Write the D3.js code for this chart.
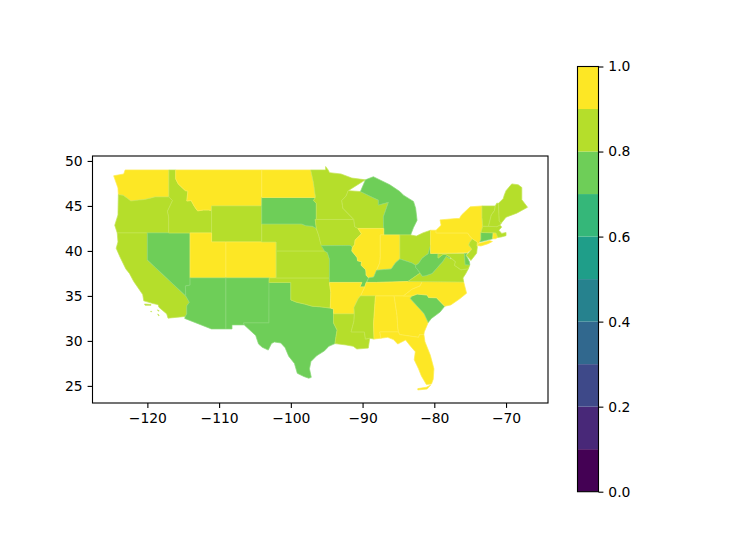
<!DOCTYPE html>
<html>
<head>
<meta charset="utf-8">
<script src="https://cdn.jsdelivr.net/npm/d3@7"></script>
<style>
  body { margin: 0; background: #fff; }
  text { font-family: "DejaVu Sans", sans-serif; font-size: 13.9px; fill: #000; }
  .tick line, .domain { stroke: #000; stroke-width: 1.1px; }
</style>
</head>
<body>
<script>
const lonTicks = [-120, -110, -100, -90, -80, -70];
const latTicks = [25, 30, 35, 40, 45, 50];
const barTicks = [0, 0.2, 0.4, 0.6, 0.8, 1];
const barColors = ["#440154", "#482878", "#3e4989", "#31688e", "#26828e", "#1f9e89", "#35b779", "#6ece58", "#b5de2b", "#fde725"];

const stateNames = ["WA","OR","CA","NV","ID","MT","WY","UT","CO","AZ","NM","TX","OK","KS","NE","SD","ND","MN","IA","MO","WI","MI","IL","IN","OH","KY","TN","AR","LA","MS","AL","GA","FL","SC","NC","VA","WV","MD","DE","PA","NJ","NY","CT","RI","MA","VT","NH","ME"];
const stateValues = [0.95,0.85,0.85,0.75,0.85,0.95,0.85,0.95,0.95,0.75,0.75,0.75,0.85,0.85,0.85,0.75,0.95,0.85,0.85,0.75,0.85,0.75,0.95,0.95,0.85,0.75,0.95,0.95,0.85,0.85,0.95,0.95,0.95,0.75,0.95,0.85,0.75,0.85,0.75,0.95,0.85,0.95,0.75,0.95,0.85,0.85,0.85,0.85];

// state outlines as [lon, lat] rings
const stateRings = [
  [[[-124.7,48.35],[-123.3,48.55],[-123.1,49],[-117,49],[-117,46],[-118.95,46],[-119.3,45.92],[-120.5,45.7],[-121.2,45.65],[-122.3,45.55],[-122.8,45.85],[-123.4,46.2],[-124.05,46.25],[-124.1,47]]],
  [[[-124.05,46.25],[-123.4,46.2],[-122.8,45.85],[-122.3,45.55],[-121.2,45.65],[-120.5,45.7],[-119.3,45.92],[-118.95,46],[-117,46],[-116.5,45.6],[-117.2,44.4],[-117.03,43.8],[-117.03,42],[-124.2,42],[-124.55,42.85],[-124.1,44]]],
  [[[-124.2,42],[-120,42],[-120,39],[-114.65,35],[-114.15,34.3],[-114.5,33.9],[-114.5,33],[-114.72,32.72],[-117.12,32.53],[-117.3,33],[-118.4,33.75],[-118.5,34.03],[-119.2,34.15],[-120.5,34.45],[-120.65,35.15],[-121.9,36.6],[-122.5,37.5],[-123,38],[-123.8,39.3],[-124.35,40.3],[-124.1,41]],
   [[-120.4,34.1],[-119.5,34.05],[-119.5,33.95],[-120.3,33.95]],[[-119.55,33.28],[-119.4,33.28],[-119.45,33.2]],[[-118.6,33.45],[-118.35,33.35],[-118.45,33.3]],[[-118.55,33],[-118.35,32.82],[-118.45,32.8]]],
  [[[-120,42],[-114.05,42],[-114.05,36.2],[-114.7,36.1],[-114.65,35],[-120,39]]],
  [[[-117,49],[-116.05,49],[-116.05,48],[-115.7,47.45],[-114.7,46.7],[-114.35,46.65],[-114.5,45.55],[-113.9,45.6],[-113.45,44.95],[-113,44.45],[-112.2,44.55],[-111.5,44.55],[-111.05,44.5],[-111.05,42],[-117.03,42],[-117.03,43.8],[-117.2,44.4],[-116.5,45.6],[-117,46]]],
  [[[-116.05,49],[-104.05,49],[-104.05,45],[-111.05,45],[-111.05,44.5],[-111.5,44.55],[-112.2,44.55],[-113,44.45],[-113.45,44.95],[-113.9,45.6],[-114.5,45.55],[-114.35,46.65],[-114.7,46.7],[-115.7,47.45],[-116.05,48]]],
  [[[-111.05,45],[-104.05,45],[-104.05,41],[-111.05,41]]],
  [[[-114.05,42],[-111.05,42],[-111.05,41],[-109.05,41],[-109.05,37],[-114.05,37]]],
  [[[-109.05,41],[-102.05,41],[-102.05,37],[-109.05,37]]],
  [[[-114.05,37],[-109.05,37],[-109.05,31.33],[-111.07,31.33],[-114.8,32.5],[-114.72,32.72],[-114.5,33],[-114.5,33.9],[-114.15,34.3],[-114.65,35],[-114.7,36.1],[-114.05,36.2]]],
  [[[-109.05,37],[-103,37],[-103.05,32],[-106.6,32],[-106.5,31.78],[-108.2,31.78],[-108.2,31.33],[-109.05,31.33]]],
  [[[-103.05,36.5],[-100,36.5],[-100,34.56],[-99.2,34.3],[-98.1,34.1],[-97,33.85],[-96,33.8],[-94.5,33.65],[-94.05,33.55],[-94.05,33],[-94.05,32],[-93.55,31.2],[-93.7,30.5],[-93.85,29.7],[-94.7,29.4],[-95.3,28.9],[-96.4,28.35],[-97.2,27.7],[-97.4,26.9],[-97.15,25.95],[-97.5,25.85],[-98.2,26.05],[-99.1,26.4],[-99.5,27.5],[-100.3,28.3],[-100.8,29.25],[-101.4,29.77],[-102.3,29.88],[-102.7,29.7],[-103.15,28.98],[-104,29.3],[-104.5,29.65],[-104.9,30.6],[-106.5,31.78],[-106.6,32],[-103.05,32]]],
  [[[-103,37],[-94.62,37],[-94.62,36.5],[-94.43,35.4],[-94.5,33.65],[-96,33.8],[-97,33.85],[-98.1,34.1],[-99.2,34.3],[-100,34.56],[-100,36.5],[-103.05,36.5]]],
  [[[-102.05,40],[-95.3,40],[-94.9,39.8],[-94.62,39.1],[-94.62,37],[-102.05,37]]],
  [[[-104.05,43],[-98.5,43],[-97.9,42.8],[-97,42.75],[-96.45,42.5],[-96.1,41.7],[-95.9,41],[-95.3,40],[-102.05,40],[-102.05,41],[-104.05,41]]],
  [[[-104.05,45.94],[-96.56,45.94],[-96.85,45.6],[-96.45,45.3],[-96.45,43.5],[-96.6,43.5],[-96.45,42.5],[-97,42.75],[-97.9,42.8],[-98.5,43],[-104.05,43]]],
  [[[-104.05,49],[-97.23,49],[-96.85,47.6],[-96.56,45.94],[-104.05,45.94]]],
  [[[-97.23,49],[-95.15,49],[-95.15,49.38],[-94.8,49],[-94.6,48.7],[-93,48.55],[-91.5,48.1],[-89.6,47.9],[-92,46.7],[-92.3,46.1],[-92.9,45.6],[-92.75,44.75],[-91.22,43.5],[-96.45,43.5],[-96.45,45.3],[-96.85,45.6],[-96.56,45.94],[-96.85,47.6]]],
  [[[-96.45,43.5],[-91.22,43.5],[-91.1,42.7],[-90.65,42.5],[-90.15,41.9],[-91.05,41.2],[-91.1,40.7],[-91.42,40.38],[-91.7,40.6],[-95.75,40.58],[-95.9,41],[-96.1,41.7],[-96.45,42.5],[-96.6,43.5]]],
  [[[-95.75,40.58],[-91.7,40.6],[-91.42,40.38],[-91.5,40],[-90.75,39.25],[-90.7,38.9],[-90.15,38.8],[-90.2,38.4],[-89.55,37.9],[-89.5,37.3],[-89.15,37],[-89.5,36.5],[-89.7,36],[-90.37,36],[-90.1,36.5],[-94.62,36.5],[-94.62,39.1],[-94.9,39.8],[-95.3,40]]],
  [[[-92,46.7],[-90.3,46.6],[-88.5,45.9],[-87.8,45.65],[-87.8,45.1],[-86.4,45.4],[-87.1,43.8],[-87.05,42.5],[-90.65,42.5],[-91.1,42.7],[-91.22,43.5],[-92.75,44.75],[-92.9,45.6],[-92.3,46.1]]],
  [[[-90.3,46.6],[-89.6,47.9],[-88.5,48.25],[-86.2,47.35],[-84.8,46.6],[-84.3,46.2],[-82.9,45.5],[-82.6,44.75],[-82.4,43.4],[-82.9,42.6],[-83.3,41.78],[-87.05,41.78],[-87.1,43.8],[-86.4,45.4],[-87.8,45.1],[-87.8,45.65],[-88.5,45.9]]],
  [[[-90.65,42.5],[-87.05,42.5],[-87.05,41.78],[-87.53,41.78],[-87.53,39.35],[-87.6,38.7],[-88.05,37.85],[-88.45,37.1],[-89.15,37],[-89.5,37.3],[-89.55,37.9],[-90.2,38.4],[-90.15,38.8],[-90.7,38.9],[-90.75,39.25],[-91.5,40],[-91.42,40.38],[-91.1,40.7],[-91.05,41.2],[-90.15,41.9]]],
  [[[-87.53,41.78],[-84.8,41.78],[-84.8,39.1],[-85.4,38.7],[-86,38],[-86.8,37.95],[-88.05,37.85],[-87.6,38.7],[-87.53,39.35]]],
  [[[-84.8,41.78],[-83.3,41.78],[-82.5,41.65],[-81.6,42],[-80.52,42.3],[-80.52,40.64],[-80.85,39.7],[-81.7,39.2],[-82.2,38.6],[-82.6,38.4],[-83.1,38.65],[-84.8,39.1]]],
  [[[-89.42,36.5],[-89.15,37],[-88.45,37.1],[-88.05,37.85],[-86.8,37.95],[-86,38],[-85.4,38.7],[-84.8,39.1],[-83.1,38.65],[-82.6,38.4],[-82.6,38.2],[-81.97,37.54],[-83.68,36.6],[-88.05,36.5]]],
  [[[-90.3,35],[-89.7,36],[-89.5,36.5],[-88.05,36.5],[-83.68,36.6],[-81.68,36.6],[-82,36.1],[-83.1,35.75],[-84.3,35]]],
  [[[-94.62,36.5],[-90.1,36.5],[-90.37,36],[-89.7,36],[-90.3,35],[-90.6,34.7],[-91.2,33.7],[-91.15,33],[-94.05,33],[-94.05,33.55],[-94.5,33.65],[-94.43,35.4]]],
  [[[-94.05,33],[-91.15,33],[-91.2,32.2],[-91.6,31],[-89.75,31],[-89.6,30.2],[-89,30.3],[-89.2,29.2],[-90.8,29.1],[-91.3,29.4],[-92.3,29.55],[-93.85,29.7],[-93.7,30.5],[-93.55,31.2],[-94.05,32]]],
  [[[-90.3,35],[-88.2,35],[-88.47,31.9],[-88.4,30.2],[-89,30.3],[-89.6,30.2],[-89.75,31],[-91.6,31],[-91.2,32.2],[-91.15,33],[-91.2,33.7],[-90.6,34.7]]],
  [[[-88.2,35],[-85.6,35],[-85.2,32.85],[-85.1,31.55],[-85,31],[-87.6,31],[-87.45,30.3],[-88,30.25],[-88.4,30.2],[-88.47,31.9]]],
  [[[-85.6,35],[-83.1,35],[-83.35,34.7],[-81.95,33.5],[-81.4,33],[-80.85,32.05],[-81.4,31],[-81.45,30.7],[-82.05,30.7],[-82.2,30.4],[-84.85,30.7],[-85,31],[-85.1,31.55],[-85.2,32.85]]],
  [[[-87.6,31],[-85,31],[-84.85,30.7],[-82.2,30.4],[-82.05,30.7],[-81.45,30.7],[-81.3,29.9],[-80.55,28.4],[-80.05,26.9],[-80.15,25.75],[-80.4,25.2],[-81.1,25.15],[-81.8,26.1],[-82.2,26.9],[-82.8,27.9],[-82.65,28.8],[-83.4,29.5],[-84,30.1],[-85.1,29.65],[-85.7,30.15],[-86.5,30.4],[-87.45,30.3]],
   [[-82.3,24.55],[-81,24.65],[-80.5,25.1],[-81.1,24.85],[-82.3,24.7]]],
  [[[-83.1,35],[-82.4,35.2],[-81,35.1],[-80.8,34.82],[-79.7,34.8],[-78.55,33.85],[-79.2,33.2],[-80.4,32.5],[-80.85,32.05],[-81.4,33],[-81.95,33.5],[-83.35,34.7]]],
  [[[-84.3,35],[-83.1,35.75],[-82,36.1],[-81.68,36.6],[-75.9,36.55],[-75.5,35.3],[-76.5,34.65],[-77.7,34],[-78.55,33.85],[-79.7,34.8],[-80.8,34.82],[-81,35.1],[-82.4,35.2],[-83.1,35]]],
  [[[-83.68,36.6],[-75.9,36.55],[-76,37],[-75.6,37.5],[-75.25,38.03],[-75.9,37.95],[-76.3,37.9],[-77,38.3],[-77.2,38.4],[-77.05,38.8],[-77.5,39.1],[-77.85,39.15],[-78.35,39.4],[-78.87,38.77],[-79.3,38.4],[-80.3,37.5],[-81.2,37.25],[-81.68,37.2],[-81.97,37.54]]],
  [[[-80.52,40.64],[-80.52,39.72],[-79.48,39.72],[-79.48,39.2],[-78.8,39.6],[-78.4,39.6],[-77.8,39.3],[-77.85,39.15],[-78.35,39.4],[-78.87,38.77],[-79.3,38.4],[-80.3,37.5],[-81.2,37.25],[-81.68,37.2],[-81.97,37.54],[-82.6,38.2],[-82.6,38.4],[-82.2,38.6],[-81.7,39.2],[-80.85,39.7]]],
  [[[-79.48,39.72],[-75.79,39.72],[-75.7,38.46],[-75.05,38.45],[-75.25,38.03],[-75.9,37.95],[-76.3,37.9],[-77,38.3],[-77.2,38.4],[-77.05,38.8],[-77.5,39.1],[-77.8,39.3],[-78.4,39.6],[-78.8,39.6],[-79.48,39.2]]],
  [[[-75.79,39.72],[-75.4,39.8],[-75.55,39.5],[-75.1,38.8],[-75.05,38.45],[-75.7,38.46]]],
  [[[-80.52,42.3],[-79.76,42.3],[-79.76,42],[-75.35,42],[-75.1,41.7],[-74.7,41.35],[-75.1,40.9],[-75.2,40.65],[-74.75,40.2],[-75.4,39.8],[-80.52,39.72]]],
  [[[-74.7,41.35],[-74,41],[-74.05,40.6],[-74,40.45],[-74.1,39.75],[-74.9,38.93],[-75.4,39.4],[-75.55,39.5],[-74.75,40.2],[-75.2,40.65],[-75.1,40.9]]],
  [[[-79.76,42.3],[-79.05,42.85],[-79.2,43.45],[-77,43.6],[-76.5,43.6],[-76.2,44],[-75,44.9],[-73.35,45],[-73.35,43.7],[-73.25,42.75],[-73.5,42.05],[-73.5,41.3],[-73.65,41],[-74,40.7],[-74,41],[-74.7,41.35],[-75.1,41.7],[-75.35,42],[-79.76,42]],
   [[-74.05,40.6],[-73.75,40.85],[-72.3,41.15],[-71.9,41.05],[-72.5,40.8],[-73.5,40.55]]],
  [[[-73.5,42.05],[-71.8,42.02],[-71.85,41.35],[-73.65,41],[-73.5,41.3]]],
  [[[-71.8,42.02],[-71.4,42],[-71.15,41.5],[-71.5,41.35],[-71.85,41.35]]],
  [[[-73.5,42.05],[-73.25,42.75],[-72.45,42.73],[-71.3,42.7],[-70.85,42.87],[-70.6,42.65],[-71,42.3],[-70.6,41.95],[-70,42.05],[-70,41.7],[-70.65,41.55],[-71.15,41.5],[-71.4,42],[-71.8,42.02]]],
  [[[-73.35,45],[-71.5,45],[-71.6,44.5],[-72.05,44],[-72.45,42.73],[-73.25,42.75],[-73.35,43.7]]],
  [[[-71.5,45],[-71.3,45.3],[-71.05,45.3],[-70.95,43.35],[-70.7,43.05],[-70.85,42.87],[-71.3,42.7],[-72.45,42.73],[-72.05,44],[-71.6,44.5]]],
  [[[-71.05,45.3],[-70.4,45.8],[-70.25,46.2],[-70,46.7],[-69.2,47.45],[-68.3,47.35],[-67.8,47.05],[-67.8,45.7],[-67,44.85],[-68.5,44.2],[-70,43.75],[-70.7,43.05],[-70.95,43.35]]]
];

const width = 736, height = 552;

const svg = d3.select("body").append("svg")
    .attr("width", width)
    .attr("height", height);

const x = d3.scaleLinear().domain([-127.65, -64.15]).range([92.5, 548]);
const y = d3.scaleLinear().domain([23.1, 50.55]).range([403, 156]);

const color = d3.scaleQuantize().domain([0, 1]).range(barColors);

const line = d3.line().x(d => x(d[0])).y(d => y(d[1]));

// States, with an edge a little lighter than the fill so no white seams show
svg.append("g")
  .selectAll("path")
  .data(stateNames)
  .join("path")
    .attr("d", (d, i) => stateRings[i].map(r => line(r) + "Z").join(""))
    .attr("fill", (d, i) => color(stateValues[i]))
    .attr("stroke", (d, i) => d3.interpolateRgb(color(stateValues[i]), "#fff")(0.2))
    .attr("stroke-width", 0.7)
    .attr("stroke-linejoin", "round");

// Axes frame
svg.append("rect")
    .attr("x", 92.5).attr("y", 156)
    .attr("width", 455.5).attr("height", 247)
    .attr("fill", "none")
    .attr("stroke", "#000")
    .attr("stroke-width", 1.1);

const xAxis = d3.axisBottom(x).tickValues(lonTicks).tickSize(4.9).tickPadding(4.9);
const yAxis = d3.axisLeft(y).tickValues(latTicks).tickSize(4.9).tickPadding(4.9);

svg.append("g").attr("transform", "translate(0,403)").call(xAxis)
    .call(g => g.select(".domain").remove());
svg.append("g").attr("transform", "translate(92.5,0)").call(yAxis)
    .call(g => g.select(".domain").remove());

// Colorbar
const barY = d3.scaleLinear().domain([0, 1]).range([491.7, 66.5]);
const barLevels = d3.range(barColors.length);

svg.append("g")
  .selectAll("rect")
  .data(barLevels)
  .join("rect")
    .attr("x", 577.5)
    .attr("width", 21)
    .attr("y", d => barY((d + 1) / barColors.length))
    .attr("height", d => barY(d / barColors.length) - barY((d + 1) / barColors.length))
    .attr("fill", d => barColors[d]);

svg.append("rect")
    .attr("x", 577.5).attr("y", 66.5)
    .attr("width", 21).attr("height", 425.2)
    .attr("fill", "none")
    .attr("stroke", "#000")
    .attr("stroke-width", 1.1);

svg.append("g").attr("transform", "translate(598.5,0)")
    .call(d3.axisRight(barY).tickValues(barTicks).tickFormat(d3.format(".1f")).tickSize(4.9).tickPadding(4.9))
    .call(g => g.select(".domain").remove());

svg.selectAll(".tick text").style("font-family", '"DejaVu Sans"').style("font-size", "13.9px");
</script>
</body>
</html>
